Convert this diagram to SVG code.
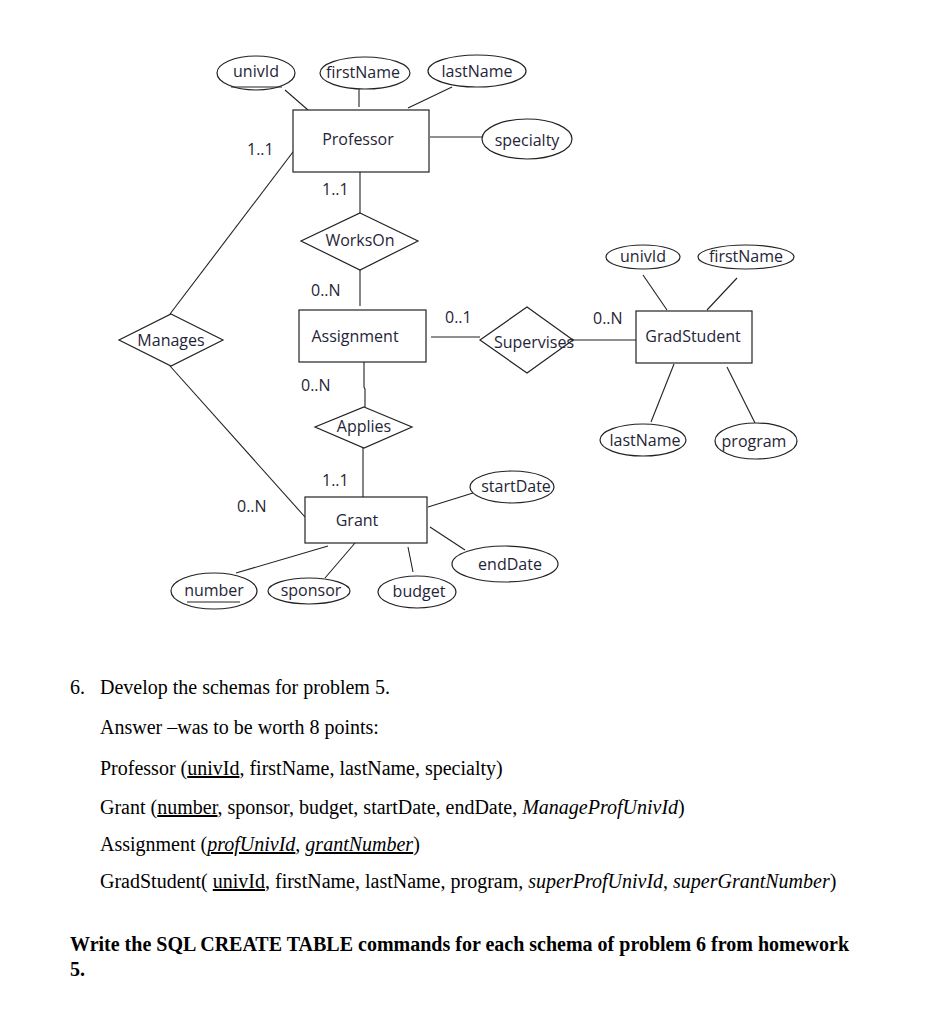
<svg xmlns="http://www.w3.org/2000/svg" width="936" height="1024" viewBox="0 0 936 1024">
<style>
.shape{fill:#fff;stroke:#222;stroke-width:1.2}
.ln{stroke:#222;stroke-width:1.1;fill:none}
.lbl{font-family:"Open Sans","Noto Sans",sans-serif;font-size:16px;fill:#1f2538;text-anchor:middle;dominant-baseline:central}
.card{font-family:"Open Sans","Noto Sans",sans-serif;font-size:16px;fill:#1f2538}
.doc{font-family:"Liberation Serif","Times New Roman",serif;font-size:20px;fill:#000}
.bold{font-weight:bold}
</style>
<rect width="936" height="1024" fill="#fff"/>
<g id="connectors">
<line class="ln" x1="285" y1="90" x2="308" y2="110"/>
<line class="ln" x1="359" y1="89" x2="359" y2="107"/>
<line class="ln" x1="452" y1="87" x2="408" y2="108"/>
<line class="ln" x1="430" y1="137" x2="482" y2="137"/>
<line class="ln" x1="299" y1="144" x2="170" y2="314"/>
<line class="ln" x1="360" y1="172" x2="360" y2="213"/>
<line class="ln" x1="360" y1="270" x2="360" y2="306"/>
<line class="ln" x1="431" y1="337" x2="480" y2="337"/>
<line class="ln" x1="572" y1="340" x2="636" y2="340"/>
<circle cx="572" cy="340" r="1.6" fill="#222"/>
<line class="ln" x1="643" y1="275" x2="667" y2="310"/>
<line class="ln" x1="737" y1="278" x2="707" y2="310"/>
<line class="ln" x1="674" y1="364" x2="651" y2="422"/>
<line class="ln" x1="727" y1="367" x2="755" y2="423"/>
<line class="ln" x1="170" y1="366" x2="305" y2="517"/>
<polyline class="ln" points="364,362 364,387 365,389 365,407"/>
<line class="ln" x1="363" y1="448" x2="363" y2="497"/>
<line class="ln" x1="428" y1="507" x2="473" y2="493"/>
<line class="ln" x1="430" y1="527" x2="465" y2="550"/>
<line class="ln" x1="328" y1="546" x2="236" y2="573"/>
<line class="ln" x1="355" y1="543" x2="325" y2="578"/>
<line class="ln" x1="408" y1="547" x2="413" y2="572"/>
<text class="card" x="247" y="155">1..1</text>
<text class="card" x="322" y="195">1..1</text>
<text class="card" x="311" y="296">0..N</text>
<text class="card" x="445" y="323">0..1</text>
<text class="card" x="593" y="324">0..N</text>
<text class="card" x="301" y="391">0..N</text>
<text class="card" x="322" y="486">1..1</text>
<text class="card" x="237" y="512">0..N</text>
</g>
<g id="professor">
<rect class="shape" x="293" y="110" width="136" height="62"/>
<text class="lbl" x="358" y="139">Professor</text>
</g>
<g id="prof-univId">
<ellipse class="shape" cx="256" cy="73" rx="39" ry="17"/>
<text class="lbl" x="256" y="71">univId</text>
<line class="ln" x1="231" y1="87" x2="282" y2="87"/>
</g>
<g id="prof-firstName">
<ellipse class="shape" cx="365" cy="73" rx="45" ry="16"/>
<text class="lbl" x="363" y="72">firstName</text>
</g>
<g id="prof-lastName">
<ellipse class="shape" cx="477" cy="71" rx="49" ry="16"/>
<text class="lbl" x="477" y="71">lastName</text>
</g>
<g id="prof-specialty">
<ellipse class="shape" cx="527" cy="139" rx="45" ry="20"/>
<text class="lbl" x="527" y="140">specialty</text>
</g>
<g id="workson">
<polygon class="shape" points="360,213 418,241 360,270 301,241"/>
<text class="lbl" x="360" y="240">WorksOn</text>
</g>
<g id="assignment">
<rect class="shape" x="299" y="310" width="127" height="52"/>
<text class="lbl" x="355" y="336">Assignment</text>
</g>
<g id="supervises">
<polygon class="shape" points="527,307 573,340 527,373 480,340"/>
<text class="lbl" x="534" y="342">Supervises</text>
</g>
<g id="gradstudent">
<rect class="shape" x="636" y="311" width="116" height="52"/>
<text class="lbl" x="693" y="336">GradStudent</text>
</g>
<g id="grad-univId">
<ellipse class="shape" cx="643" cy="257" rx="37" ry="12"/>
<text class="lbl" x="643" y="256">univId</text>
</g>
<g id="grad-firstName">
<ellipse class="shape" cx="746" cy="257" rx="48" ry="12"/>
<text class="lbl" x="746" y="256">firstName</text>
</g>
<g id="grad-lastName">
<ellipse class="shape" cx="643" cy="440" rx="43" ry="16"/>
<text class="lbl" x="645" y="440">lastName</text>
</g>
<g id="grad-program">
<ellipse class="shape" cx="756" cy="441" rx="41" ry="18"/>
<text class="lbl" x="754" y="441">program</text>
</g>
<g id="manages">
<polygon class="shape" points="171,314 223,340 171,366 119,340"/>
<text class="lbl" x="171" y="340">Manages</text>
</g>
<g id="applies">
<polygon class="shape" points="364,407 412,427 364,448 315,427"/>
<text class="lbl" x="364" y="426">Applies</text>
</g>
<g id="grant">
<rect class="shape" x="305" y="497" width="122" height="46"/>
<text class="lbl" x="357" y="520">Grant</text>
</g>
<g id="grant-startDate">
<ellipse class="shape" cx="512" cy="487" rx="42" ry="16"/>
<text class="lbl" x="516" y="486">startDate</text>
</g>
<g id="grant-endDate">
<ellipse class="shape" cx="505" cy="564" rx="53" ry="18"/>
<text class="lbl" x="510" y="564">endDate</text>
</g>
<g id="grant-number">
<ellipse class="shape" cx="214" cy="591" rx="43" ry="18"/>
<text class="lbl" x="214" y="590">number</text>
<line class="ln" x1="187" y1="602" x2="240" y2="602"/>
</g>
<g id="grant-sponsor">
<ellipse class="shape" cx="309" cy="591" rx="41" ry="13"/>
<text class="lbl" x="311" y="590">sponsor</text>
</g>
<g id="grant-budget">
<ellipse class="shape" cx="417" cy="592" rx="39" ry="16"/>
<text class="lbl" x="419" y="591">budget</text>
</g>
<g id="text-block">
<text class="doc" x="70" y="694">6.</text>
<text class="doc" x="100" y="694">Develop the schemas for problem 5.</text>
<text class="doc" x="100" y="734">Answer –was to be worth 8 points:</text>
<text class="doc" x="100" y="775">Professor (<tspan text-decoration="underline">univId</tspan>, firstName, lastName, specialty)</text>
<text class="doc" x="100" y="814">Grant (<tspan text-decoration="underline">number</tspan>, sponsor, budget, startDate, endDate, <tspan font-style="italic">ManageProfUnivId</tspan>)</text>
<text class="doc" x="100" y="851">Assignment (<tspan font-style="italic" text-decoration="underline">profUnivId</tspan>, <tspan font-style="italic" text-decoration="underline">grantNumber</tspan>)</text>
<text class="doc" x="100" y="888">GradStudent( <tspan text-decoration="underline">univId</tspan>, firstName, lastName, program, <tspan font-style="italic">superProfUnivId</tspan>, <tspan font-style="italic">superGrantNumber</tspan>)</text>
<text class="doc bold" x="70" y="951">Write the SQL CREATE TABLE commands for each schema of problem 6 from homework</text>
<text class="doc bold" x="70" y="976">5.</text>
</g>
</svg>
